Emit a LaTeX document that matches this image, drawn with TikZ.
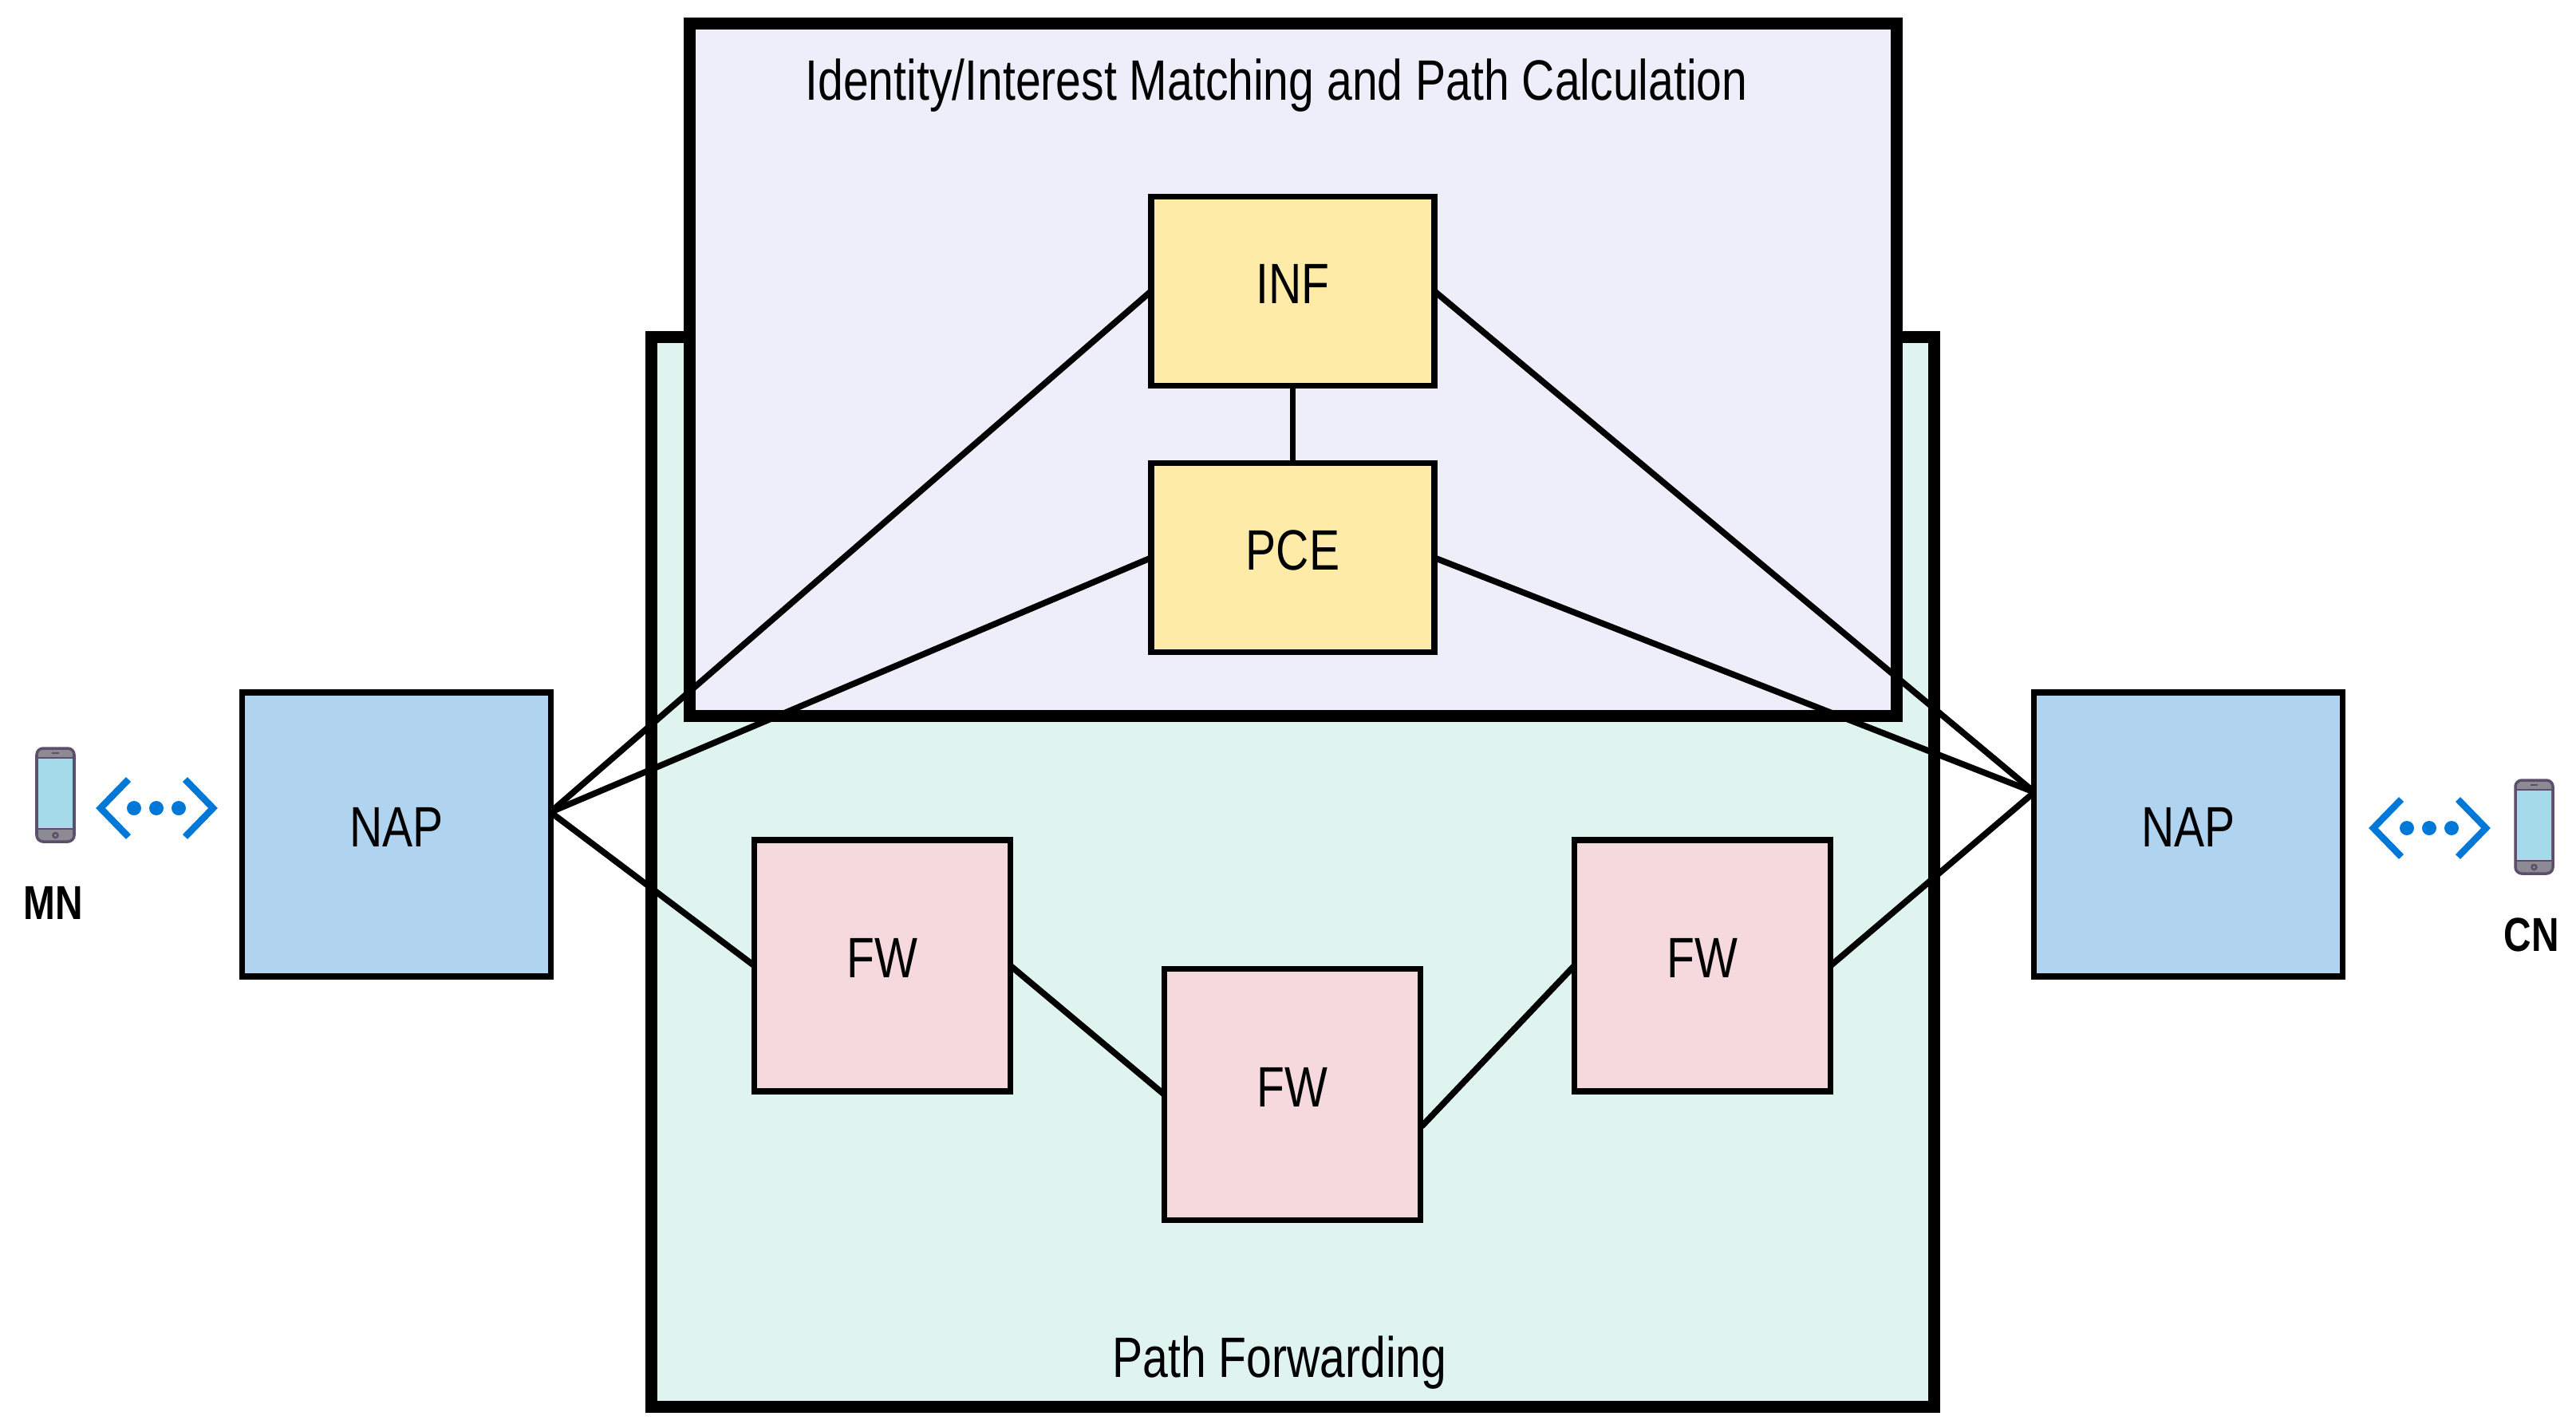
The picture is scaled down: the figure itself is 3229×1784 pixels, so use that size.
\documentclass[tikz,border=0pt]{standalone}
\usepackage{fontspec}
\setmainfont[FakeStretch=0.8]{Liberation Sans}
\usetikzlibrary{positioning}
\definecolor{forwardgreen}{HTML}{DFF4EF}
\definecolor{matchpurple}{HTML}{EEEEFA}
\definecolor{infyellow}{HTML}{FFEBA8}
\definecolor{napblue}{HTML}{B0D4EF}
\definecolor{fwpink}{HTML}{F6D9DC}
\definecolor{linkblue}{HTML}{0078D7}
\definecolor{phonescreen}{HTML}{A5DAEA}
\definecolor{phonebody}{HTML}{8C8A93}
\definecolor{phoneedge}{HTML}{5C4F6B}

\begin{document}
\begin{tikzpicture}[
  x=0.01cm, y=-0.01cm,
  frame/.style={rectangle, draw=black, line width=4.3pt, outer sep=0pt},
  box/.style={rectangle, draw=black, line width=2.1pt, outer sep=0pt, inner sep=0pt, text height=0.5cm, text depth=0.2cm, font=\fontsize{20.3}{24}\selectfont},
  infbox/.style={box, fill=infyellow, minimum width=3.55cm, minimum height=2.37cm},
  napbox/.style={box, fill=napblue, minimum width=3.87cm, minimum height=3.56cm},
  fwbox/.style={box, fill=fwpink, minimum width=3.21cm, minimum height=3.15cm},
  title/.style={font=\fontsize{20.3}{24}\selectfont},
  devname/.style={font=\fontsize{17}{20}\selectfont\bfseries},
  wire/.style={line width=2.2pt},
  chevron/.style={draw=linkblue, line width=2.4pt},
  phone/.pic={
    \draw[phoneedge, fill=phonebody, line width=1pt, rounded corners=0.08cm] (1,1) rectangle (48,118);
    \fill[phonescreen] (3,13) rectangle (46,102);
    \draw[phoneedge, line width=0.7pt] (2,13) -- (47,13) (2,102) -- (47,102);
    \draw[phoneedge, line width=0.7pt] (20,7) -- (29,7);
    \draw[phoneedge, line width=0.7pt] (24.5,110) circle (3);
  },
  link/.pic={
    \draw[chevron] (41,-36) -- (6,0) -- (41,36);
    \draw[chevron] (112,-36) -- (147,0) -- (112,36);
    \foreach \dotx in {48,76,104} \fill[linkblue] (\dotx,0) circle (9);
  }
]
\useasboundingbox (0,0) rectangle (3229,1784);

% Frames
\node[frame, fill=forwardgreen, minimum width=16.07cm, minimum height=13.40cm] (forward) at (1620.5,1093) {};
\node[frame, fill=matchpurple, minimum width=15.12cm, minimum height=8.67cm] (match) at (1621,463.5) {};
\node[title] (matchtitle) at (1600,107) {Identity/Interest Matching and Path Calculation};
\node[title] (forwardtitle) at (1604,1708) {Path Forwarding};

% Control nodes
\node[infbox] (inf) at (1620.5,365) {INF};
\node[infbox, below=0.97cm of inf] (pce) {PCE};

% Access nodes
\node[napbox] (napl) at (497,1046) {NAP};
\node[napbox] (napr) at (2743,1046) {NAP};

% Forwarding nodes
\node[fwbox] (fwa) at (1106,1210.5) {FW};
\node[fwbox] (fwb) at (1620,1372) {FW};
\node[fwbox] (fwc) at (2134,1210.5) {FW};

% Ports
\coordinate (naplport) at (690,1018);
\coordinate (naprport) at (2550,993);
\coordinate (fwbport) at (1782,1412);

% Links
\draw[wire] (inf.west) -- (naplport);
\draw[wire] (pce.west) -- (naplport);
\draw[wire] (fwa.west) -- (naplport);
\draw[wire] (inf.east) -- (naprport);
\draw[wire] (pce.east) -- (naprport);
\draw[wire] (fwc.east) -- (naprport);
\draw[wire] (inf) -- (pce);
\draw[wire] (fwa.east) -- (fwb.west);
\draw[wire] (fwbport) -- (fwc.west);

% Devices
\pic at (45,937) {phone};
\pic at (120,1013) {link};
\node[devname] (mn) at (67,1132) {MN};
\pic at (3152,977) {phone};
\pic at (2969,1038) {link};
\node[devname] (cn) at (3173,1172) {CN};

\end{tikzpicture}
\end{document}
